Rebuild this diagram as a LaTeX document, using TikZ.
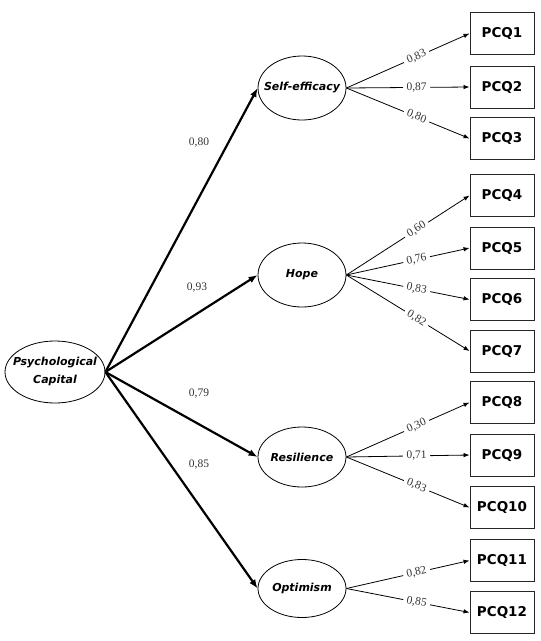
\documentclass[tikz,border=0pt]{standalone}
\usepackage{fontspec}
\setmainfont{Liberation Serif}
\newfontfamily\vfont{DejaVu Sans}
\usetikzlibrary{shapes.geometric,arrows.meta}
\begin{document}
\begin{tikzpicture}[x=1pt,y=-1pt,
 lat/.style={draw, ellipse, line width=0.8pt, minimum width=88pt, minimum height=64pt, inner sep=0pt, font=\vfont\bfseries\itshape\fontsize{11}{13}\selectfont},
 obs/.style={draw=black!85, line width=0.9pt, minimum width=64pt, minimum height=42pt, inner sep=0pt, font=\vfont\bfseries\fontsize{13.5}{15}\selectfont},
 ld/.style={line width=0.8pt, -{Latex[length=6pt,width=4.5pt]}},
 st/.style={line width=2.2pt, -{Latex[length=9pt,width=7pt]}},
 lbl/.style={fill=white, sloped, pos=0.57, inner xsep=3.5pt, inner ysep=0pt, font=\fontsize{11.5}{12}\selectfont, text=black!80},
 coef/.style={font=\fontsize{11.5}{13}\selectfont, text=black!80}]
\useasboundingbox (0,0) rectangle (541,641);

% latent variables
\node[lat, minimum width=100pt, minimum height=62pt] (pc) at (55,372)
  {\makebox[0pt][c]{\begin{tabular}{@{}c@{}}Psychological\\[5pt]Capital\end{tabular}}};
\node[lat] (se) at (302,88) {\makebox[0pt][c]{Self-efficacy}};
\node[lat] (hope) at (302,275) {\makebox[0pt][c]{Hope}};
\node[lat, minimum height=60pt] (res) at (302,457) {\makebox[0pt][c]{Resilience}};
\node[lat, minimum height=58pt] (opt) at (302,588.5) {\makebox[0pt][c]{Optimism}};

% indicators
\node[obs] (q1) at (502,33.5) {PCQ1};
\node[obs] (q2) at (502,87) {PCQ2};
\node[obs] (q3) at (502,138.5) {PCQ3};
\node[obs] (q4) at (502,195.5) {PCQ4};
\node[obs] (q5) at (502,248) {PCQ5};
\node[obs] (q6) at (502,299.5) {PCQ6};
\node[obs] (q7) at (502,351) {PCQ7};
\node[obs] (q8) at (502,402.5) {PCQ8};
\node[obs] (q9) at (502,455) {PCQ9};
\node[obs] (q10) at (502,507.5) {PCQ10};
\node[obs] (q11) at (502,560.5) {PCQ11};
\node[obs] (q12) at (502,612.5) {PCQ12};

% structural paths
\draw[st] (pc.east) -- (se.west);
\draw[st] (pc.east) -- (hope.west);
\draw[st] (pc.east) -- (res.west);
\draw[st] (pc.east) -- (opt.west);
\node[coef] (c1) at (199,143) {0,80};
\node[coef] (c2) at (197,288) {0,93};
\node[coef] (c3) at (199,394) {0,79};
\node[coef] (c4) at (199,465) {0,85};

% loadings
\draw[ld] (se.east) -- node[lbl] {0,83} (q1.west);
\draw[ld] (se.east) -- node[lbl] {0,87} (q2.west);
\draw[ld] (se.east) -- node[lbl] {0,80} (q3.west);
\draw[ld] (hope.east) -- node[lbl] {0,60} (q4.west);
\draw[ld] (hope.east) -- node[lbl] {0,76} (q5.west);
\draw[ld] (hope.east) -- node[lbl] {0,83} (q6.west);
\draw[ld] (hope.east) -- node[lbl] {0,82} (q7.west);
\draw[ld] (res.east) -- node[lbl] {0,30} (q8.west);
\draw[ld] (res.east) -- node[lbl] {0,71} (q9.west);
\draw[ld] (res.east) -- node[lbl] {0,83} (q10.west);
\draw[ld] (opt.east) -- node[lbl] {0,82} (q11.west);
\draw[ld] (opt.east) -- node[lbl] {0,85} (q12.west);
\end{tikzpicture}
\end{document}
